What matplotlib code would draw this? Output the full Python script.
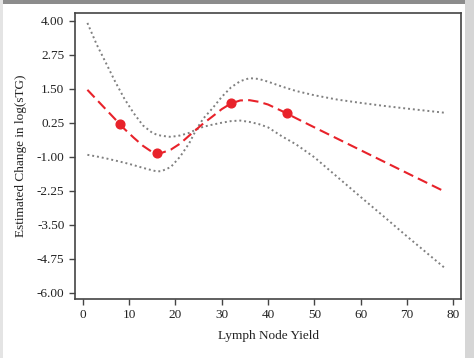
import matplotlib
matplotlib.use("Agg")
import matplotlib.pyplot as plt
from matplotlib.patches import Rectangle

# values
yield_x = [1, 3, 5, 7, 9, 11, 13, 15, 16, 17, 19, 21, 23, 24.5, 26, 28, 30,
           32, 34, 36, 38, 40, 43, 46, 50, 55, 60, 65, 70, 78]
estimate = [1.46, 1.1, 0.74, 0.38, 0.02, -0.3, -0.6, -0.83, -0.88, -0.86,
            -0.74, -0.52, -0.22, 0.0, 0.22, 0.48, 0.75, 0.96, 1.07, 1.08,
            1.02, 0.92, 0.68, 0.42, 0.08, -0.34, -0.76, -1.18, -1.6, -2.27]
band_a = [3.92, 3.13, 2.45, 1.76, 1.13, 0.6, 0.15, -0.12, -0.19, -0.23,
          -0.27, -0.22, -0.12, 0.0, 0.1, 0.18, 0.25, 0.31, 0.33, 0.28,
          0.2, 0.08, -0.25, -0.54, -1.02, -1.75, -2.48, -3.2, -3.93, -5.07]
band_b = [-0.93, -0.99, -1.06, -1.14, -1.22, -1.31, -1.41, -1.5, -1.54,
          -1.53, -1.38, -1.0, -0.5, 0.0, 0.4, 0.78, 1.2, 1.55, 1.78, 1.89,
          1.86, 1.76, 1.58, 1.42, 1.26, 1.1, 0.98, 0.87, 0.77, 0.62]
knot_x = [8, 16, 32, 44]
knot_y = [0.2, -0.88, 0.96, 0.59]

x_ticks = [0, 10, 20, 30, 40, 50, 60, 70, 80]
y_ticks = [4.00, 2.75, 1.50, 0.25, -1.00, -2.25, -3.50, -4.75, -6.00]

plt.rcParams['font.family'] = ['Liberation Serif', 'DejaVu Serif']

fig = plt.figure(figsize=(4.74, 3.58), dpi=100)
ax = fig.add_axes([0.158, 0.165, 0.815, 0.799])

grey = '#808080'
red = '#e8222a'
ax.plot(yield_x, band_a, color=grey, lw=1.4, linestyle=(0, (1, 1.5)))
ax.plot(yield_x, band_b, color=grey, lw=1.4, linestyle=(0, (1, 1.5)))
ax.plot(yield_x, estimate, color=red, lw=1.5, linestyle=(0, (5, 2.5)))
ax.plot(knot_x, knot_y, 'o', color=red, markersize=6.3, zorder=3)

ax.set_xlim(-1.7, 81.7)
ax.set_ylim(-6.23, 4.29)
ax.set_xticks(x_ticks)
ax.set_yticks(y_ticks)
ax.set_yticklabels(['%.2f' % v for v in y_ticks])

for s in ax.spines.values():
    s.set_color('#444444')
    s.set_linewidth(1.2)
ax.tick_params(direction='out', length=4, width=1, color='#444444',
               labelsize=9.5, labelcolor='#222222')

ax.set_xlabel('Lymph Node Yield', fontsize=9.5, color='#222222', labelpad=6)
ax.set_ylabel('Estimated Change in log(sTG)', fontsize=9.5, color='#222222',
              labelpad=7)

# grey frame around the picture
fig.add_artist(Rectangle((0, 0.988), 1, 0.012, transform=fig.transFigure,
                         color='#8c8c8c', lw=0))
fig.add_artist(Rectangle((0.982, 0), 0.018, 1, transform=fig.transFigure,
                         color='#d6d6d6', lw=0))
fig.add_artist(Rectangle((0, 0), 0.006, 1, transform=fig.transFigure,
                         color='#e4e4e4', lw=0))

fig.savefig('out.png', dpi=100)
